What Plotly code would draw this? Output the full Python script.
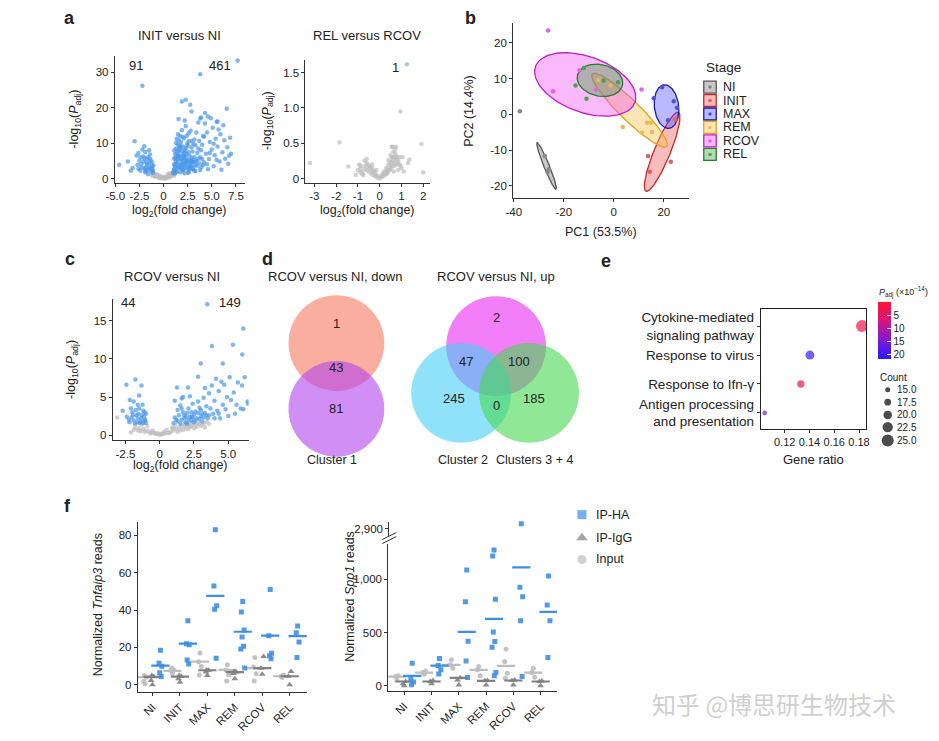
import numpy as np
import plotly.graph_objects as go

W, H = 939, 741
FONT = "Liberation Sans"
CJK = "Noto Sans CJK SC"
# horizontal calibration of the rendered page (observed = SX * placed + OX)
SX, OX = 0.989, 9.0

# ---------------- data ----------------
A1_UP = [(1.0,1.5),(1.1,2.5),(1.2,3.5),(1.3,4.8),(1.2,6.0),(1.4,7.2),(1.3,8.5),(1.5,9.6),(1.6,10.8),(1.4,2.0),
         (1.6,3.0),(1.7,4.2),(1.8,5.5),(1.7,6.6),(1.9,7.8),(2.0,9.0),(1.8,10.2),(2.1,11.3),(2.0,2.2),(2.2,3.4),
         (2.3,4.6),(2.1,5.8),(2.4,6.9),(2.2,8.1),(2.5,9.3),(2.6,10.5),(2.4,12.0),(2.6,1.8),(2.7,3.0),(2.8,4.1),
         (2.9,5.3),(2.7,6.4),(3.0,7.6),(2.9,8.8),(3.1,9.8),(3.2,11.0),(3.0,2.6),(3.3,3.8),(3.4,5.0),(3.2,6.1),
         (3.5,7.3),(3.6,8.5),(3.4,13.0),(1.5,12.5),(1.9,13.6),(2.3,14.8),(2.8,13.5),(3.3,2.1),(3.7,4.3),(3.8,6.0),
         (1.1,4.0),(1.3,10.0),(1.6,7.7),(2.0,6.5),(2.5,5.2),(1.8,3.7),(2.2,1.5),(1.5,5.2),(3.9,3.2),(1.2,1.4),
         (1.4,3.1),(1.9,2.6),(2.3,3.9),(2.6,7.4),(1.7,9.2),(2.9,10.6),(3.1,4.5),(2.1,7.1),(1.5,6.3),(2.4,2.9),
         (4.0,9.5),(4.2,11.8),(4.4,7.0),(4.5,13.0),(4.7,5.5),(4.8,10.3),(5.0,8.2),(5.1,14.3),(5.3,6.6),(5.4,11.2),
         (5.6,9.0),(5.8,4.8),(5.9,12.5),(6.1,7.4),(6.3,10.8),(6.4,5.6),(6.6,8.8),(6.8,6.4),(6.9,11.5),(7.0,7.0),
         (6.7,4.2),(6.2,15.0),(5.5,16.0),(4.3,15.5),(4.1,3.8),(4.6,2.6),(5.2,3.5),(3.9,17.2),(3.6,15.8),(6.0,2.5),
         (4.9,17.0),(5.7,13.8),(6.55,19.7),(4.3,18.5),(4.6,17.5),(2.77,20.8),(2.9,18.9),(1.56,16.8),(2.2,16.4),
         (3.8,16.9),(5.6,16.1),(1.9,21.7),(2.3,22.2),(3.8,29.4),(7.68,33.3),
         (1.05,2.0),(1.15,3.0),(1.25,4.2),(1.35,5.5),(1.45,6.5),(1.55,8.0),(1.65,9.0),(1.75,1.8),(1.85,2.9),
         (1.95,4.0),(2.05,5.0),(2.15,6.2),(2.25,7.4),(2.35,8.6),(2.45,9.8),(2.55,1.6),(2.65,2.5),(2.75,3.5),
         (2.85,4.6),(2.95,5.8),(1.1,5.6),(1.2,7.0),(1.3,1.9),(1.4,4.1),(1.6,5.9),(1.7,3.4),(1.8,8.6),(1.9,5.0),
         (2.0,3.7),(2.1,2.6),(2.2,4.4),(2.3,6.0),(2.4,5.0),(2.5,3.3),(2.6,4.4),(2.7,5.1),(2.8,2.7),(2.9,3.5),
         (3.0,4.8),(3.1,3.1),(3.2,2.2),(3.3,4.9),(3.5,3.6),(3.6,5.6),(3.8,2.4),(4.0,5.5),(4.2,4.6),(4.5,4.0),
         (4.8,7.2),(5.2,9.8),(5.5,5.3),(3.9,8.0),(4.1,12.0),(3.3,9.4),(3.7,10.6),(2.0,11.8),(1.7,12.0),(2.6,12.8),
         (1.35,11.2),(1.12,8.0)]
A1_DOWN = [(-4.6,3.9),(-3.2,3.0),(-3.0,10.5),(-2.6,7.2),(-2.0,9.1),(-2.2,26.2),(-2.8,6.5),(-2.5,5.0),(-2.3,4.0),
           (-2.1,6.2),(-1.9,7.5),(-1.8,3.2),(-1.7,5.5),(-1.6,2.5),(-1.5,4.4),(-1.4,6.8),(-1.3,2.0),(-1.2,3.6),
           (-1.5,8.0),(-2.4,2.2),(-2.7,3.8),(-3.4,2.2),(-1.1,1.6),(-1.9,1.8),(-2.2,8.2),(-1.6,1.2),(-3.7,4.8),
           (-1.3,5.0),(-2.0,3.0),(-1.8,4.6),(-2.4,6.0),(-1.2,2.6),
           (-1.1,2.3),(-1.3,3.0),(-1.5,3.2),(-1.7,4.0),(-1.9,2.5),(-2.1,4.8),(-2.3,3.1),(-1.4,5.6),(-1.2,4.5),
           (-1.6,6.0),(-2.6,2.7),(-1.05,3.6),(-1.8,2.1),(-2.0,5.7)]
A1_NS = [(-1.0,1.4),(-0.8,0.9),(-0.6,0.6),(-0.4,0.3),(-0.2,0.1),(0.0,0.05),(0.2,0.1),(0.4,0.3),(0.6,0.6),(0.8,1.0),
         (1.0,1.2),(-0.9,0.5),(-0.5,0.2),(-0.3,0.4),(0.1,0.3),(0.3,0.2),(0.5,0.9),(0.7,0.4),(0.9,1.6),(-0.7,1.2),
         (-0.1,0.5),(0.15,0.0),(-0.15,0.15),(1.1,0.8),(-1.1,0.8),(0.45,1.3),(-0.45,0.9),(0.65,1.5),(1.2,1.9),(-1.2,1.0),
         (-0.95,1.1),(-0.75,0.7),(-0.55,0.4),(-0.35,0.2),(0.35,0.35),(0.55,0.45),(0.75,0.8),(0.95,1.0),(0.05,0.15),
         (-0.05,0.25),(0.25,0.5),(-0.25,0.25),(1.05,1.7),(-1.05,1.7),(0.85,1.3)]
A1_COUNTS = [91, 461]

A2_SIG = [(1.25, 1.62)]
A2_NS = [(-1.0,0.12),(-0.9,0.15),(-0.8,0.1),(-0.7,0.25),(-0.6,0.28),(-0.6,0.12),(-0.5,0.1),(-0.4,0.07),(-0.3,0.05),
         (-0.2,0.03),(-0.1,0.01),(0.0,0.0),(0.1,0.02),(0.2,0.04),(0.3,0.06),(0.4,0.1),(0.5,0.13),(0.6,0.17),
         (0.7,0.22),(0.8,0.2),(0.6,0.3),(0.7,0.36),(0.5,0.24),(0.4,0.2),(0.55,0.45),(0.75,0.45),(0.9,0.3),
         (1.0,0.15),(0.45,0.16),(0.35,0.12),(-0.45,0.17),(-0.55,0.2),(-0.75,0.05),(-0.25,0.1),(0.25,0.09),
         (-1.1,0.05),(1.1,0.1),(0.65,0.1),(0.85,0.12),(0.95,0.95),(-1.85,0.51),(1.92,0.49),(-3.2,0.22),(2.0,0.09),
         (-1.44,0.17),(1.36,0.27),(-0.35,0.15),(0.15,0.07),(0.8,0.3),(-0.65,0.18),(1.3,0.22),
         (-0.95,0.2),(-0.85,0.18),(-0.7,0.14),(-0.5,0.16),(-0.4,0.13),(-0.3,0.1),(-0.2,0.07),(-0.1,0.04),
         (0.05,0.03),(0.15,0.05),(0.25,0.06),(0.35,0.08),(0.45,0.12),(0.5,0.19),(0.55,0.22),(0.6,0.25),
         (0.65,0.3),(0.7,0.28),(0.75,0.32),(0.8,0.26),(0.85,0.24),(0.9,0.2),(0.55,0.3),(0.62,0.38),(0.68,0.18),
         (0.5,0.33),(0.4,0.26),(0.3,0.15),(0.2,0.1),(-0.15,0.12),(-0.35,0.2),(-0.6,0.22),(-0.8,0.06),(-0.9,0.09),
         (0.95,0.18),(1.05,0.3),(0.72,0.42),(0.6,0.45)]
A2_COUNTS = [1]

C_DOWN = [(-2.43,6.6),(-1.77,7.3),(-1.33,6.5),(-2.18,4.6),(-1.9,4.4),(-1.5,3.5),(-1.2,3.2),(-1.0,2.8),(-1.1,3.0),
          (-1.3,2.6),(-1.6,2.2),(-1.9,1.9),(-2.2,1.7),(-2.0,3.0),(-1.7,2.6),(-1.4,1.8),(-1.2,1.6),(-2.4,2.4),
          (-1.05,2.0),(-1.8,1.5),(-2.1,3.5),(-1.5,5.2),(-2.7,3.2),(-1.25,4.0),(-1.6,4.0),(-1.0,1.6),
          (-1.15,2.4),(-1.35,2.2),(-1.55,2.8),(-1.75,3.3),(-1.95,2.6),(-2.25,2.0),(-1.45,1.6),(-1.65,1.7),
          (-1.1,1.9),(-2.05,2.3)]
C_UP = [(1.0,1.6),(1.2,2.0),(1.4,2.6),(1.3,3.3),(1.5,3.9),(1.6,4.8),(1.7,5.0),(1.26,6.25),(2.06,6.25),(1.8,2.2),
        (1.9,1.7),(2.0,2.9),(2.1,3.5),(2.2,2.4),(2.3,1.9),(2.4,4.1),(2.5,2.7),(2.6,3.1),(2.7,2.2),(2.8,4.4),
        (2.9,3.6),(3.0,2.5),(3.1,1.8),(3.2,4.9),(3.3,2.9),(3.4,3.8),(3.5,2.2),(1.1,4.5),(1.5,1.5),(2.2,5.1),
        (1.7,3.0),(2.0,1.5),(2.35,2.4),(2.8,7.65),(2.99,9.4),(3.47,17.2),(3.81,11.7),(4.6,9.4),(5.34,11.85),
        (6.02,10.6),(6.09,14.0),(5.1,7.6),(6.2,7.6),(6.4,4.4),(6.45,4.1),(3.6,5.5),(3.8,6.5),(4.0,4.5),(4.2,3.2),
        (4.3,5.8),(4.5,7.0),(4.7,6.6),(4.8,3.4),(4.9,5.0),(5.0,2.5),(5.2,4.6),(5.4,5.6),(5.5,2.8),(5.7,6.9),
        (5.9,3.5),(6.1,3.4),(3.9,2.8),(4.1,7.4),(4.4,2.2),(3.7,3.5),(5.6,4.0),(6.0,6.5),(3.3,6.2),(4.6,4.0),
        (1.1,2.3),(1.3,1.8),(1.6,2.0),(1.8,2.6),(2.1,2.0),(2.4,2.3),(2.6,1.9),(2.8,2.9),(3.0,3.3),(3.2,2.3),
        (3.4,2.6),(1.6,3.5),(1.9,2.4),(2.5,1.7),(2.9,2.1),(3.6,2.6),(4.0,2.2),(4.3,2.8),(3.1,2.8),(2.3,3.0)]
C_NS = [(-3.1,2.3),(-2.1,0.35),(-1.8,1.0),(-1.5,0.9),(-1.2,0.8),(-1.0,0.6),(-0.8,0.5),(-0.6,0.35),(-0.4,0.2),
        (-0.2,0.1),(0.0,0.05),(0.2,0.1),(0.4,0.2),(0.6,0.3),(0.8,0.45),(1.0,0.6),(1.2,0.8),(1.4,1.0),(1.6,1.1),
        (1.8,1.25),(2.0,1.35),(2.2,1.1),(2.4,1.5),(2.6,1.3),(2.8,1.6),(3.0,1.2),(3.2,1.4),(3.4,1.7),(3.6,1.5),
        (-0.5,0.6),(0.5,0.7),(-0.9,1.2),(1.1,1.3),(0.3,0.4),(-0.3,0.3),(1.5,0.6),(2.1,0.8),(-1.3,1.4),(0.9,1.0),
        (2.5,0.9),(-1.6,0.6),(-1.4,0.5),(-1.1,0.4),(-0.7,0.2),(0.7,0.25),(1.3,0.45),(1.7,0.7),(1.9,0.9),(2.3,1.2),
        (2.7,1.1),(2.9,1.45),(3.3,1.0),(-1.9,0.7),(0.1,0.15),(-0.1,0.2),(1.0,0.9),(1.8,1.5),(2.2,1.6)]
C_COUNTS = [44, 149]

STAGES = ["NI", "INIT", "MAX", "REM", "RCOV", "REL"]
PC1 = [[-37.6, -27.6, -26.0, -26.5],
       [13.7, 14.4, 22.8, 24.7],
       [19.3, 16.0, 24.0, 25.3, 21.7],
       [3.6, 13.3, 15.0, 11.3, 15.3, -1.3, -6.3],
       [-26.3, -24.3, -7.1, 11.1, -13.7],
       [-12.0, -15.3, -10.9, -4.0, 1.7]]
PC2 = [[0.9, -11.6, -15.3, -16.2],
       [-11.6, -16.0, -13.2, -1.4],
       [7.6, 4.5, 3.7, 1.9, -1.6],
       [-3.5, -2.3, -2.3, -5.1, -4.9, 8.1, 9.6],
       [23.5, 6.5, 7.0, 7.0, 12.3],
       [13.0, 8.1, 4.4, 9.5, 9.0]]
ELL_CX = [-26.9, 19.35, 21.1, 6.3, -11.45, -5.55]
ELL_CY = [-14.4, -10.45, 2.2, 1.2, 8.4, 9.55]
ELL_A = [7.53, 12.81, 6.2, 18.03, 20.6, 9.15]
ELL_B = [1.0, 3.0, 4.8, 3.2, 8.0, 4.45]
ELL_ANGLE = [-59.7, 58.7, 107.0, -33.7, -11.8, -6.0]
PCA_XLABEL = "PC1 (53.5%)"
PCA_YLABEL = "PC2 (14.4%)"

VENN_DOWN_COUNTS = [1, 43, 81]
VENN_DOWN_LABELS = ["RCOV versus NI, down", "Cluster 1"]
VENN_UP_COUNTS = [2, 47, 100, 245, 0, 185]
VENN_UP_LABELS = ["RCOV versus NI, up", "Cluster 2", "Clusters 3 + 4"]

GO_TERMS = ["Antigen processing<br>and presentation", "Response to Ifn-γ",
            "Response to virus", "Cytokine-mediated<br>signaling pathway"]
GO_RATIO = [0.1038, 0.133, 0.1403, 0.1824]
GO_PADJ = [16.0, 3.5, 21.0, 2.5]
GO_COUNT = [14.5, 18.5, 20.5, 25.0]
COUNT_LEGEND = [15.0, 17.5, 20.0, 22.5, 25.0]

F_STAGES = ["NI", "INIT", "MAX", "REM", "RCOV", "REL"]
TNF_INPUT = [[0.6, 1.8, 4, 5], [6.2, 7.5, 8, 9], [17, 12.4, 9.8, 5.3], [10.7, 8, 5.3, 2.1],
             [14.6, 9.6, 5.9, 2.1], [3.9, 4.6, 5.3]]
TNF_INPUT_MID = [4.1, 7.5, 12.4, 8.0, 8.9, 4.6]
TNF_IGG = [[0, 2.3, 4.3, 5], [1.4, 3.2, 4.4, 5], [5, 6.8, 7.8, 8], [3.2, 6, 6.8, 7], [5.7, 8.9, 15.1], [0, 4.6, 7.1]]
TNF_IGG_MID = [4.3, 4.4, 7.8, 6.8, 8.9, 4.6]
TNF_HA = [[18.5, 11.5, 10, 6.5, 4.5], [34.3, 22, 21.5, 13.3, 11.2], [83, 52.8, 42.3, 40.4, 14.2],
          [44.6, 39, 29.3, 25.6, 20.6, 19.2, 9], [51, 26.3, 16.9, 15.5, 13.9], [31.5, 27.9, 22.9, 14.6]]
TNF_HA_MID = [10.3, 22, 47.6, 28.4, 26.3, 26.1]

SPP_INPUT = [[56, 87, 95], [109, 125, 140], [244, 197, 166], [181, 150, 94], [347, 228, 119, 72], [166, 125, 81]]
SPP_INPUT_MID = [87, 125, 197, 150, 187, 125]
SPP_IGG = [[0, 20, 41], [19, 41, 50], [9, 56, 75], [9, 47, 50], [9, 50, 55], [0, 41, 45]]
SPP_IGG_MID = [41, 41, 75, 47, 50, 41]
SPP_HA = [[212, 60, 35, 10], [256, 190, 150, 112], [1088, 790, 419, 234, 78],
          [1275, 1219, 812, 506, 416, 362, 125, 94], [2945, 925, 837, 612, 87], [1031, 759, 612, 266]]
SPP_HA_MID = [94, 190, 506, 628, 1112, 694]
SPP_BREAK = 1400

# ---------------- styling ----------------
BLUE = "#4a97e8"
GRAY_NS = "#bdbdbd"
ST_LINE = ["#555555", "#c62828", "#1a1aa8", "#e3a21a", "#c21bc8", "#2a7d2a"]
ST_FILL = ["rgba(120,120,120,0.40)", "rgba(240,80,80,0.38)", "rgba(70,70,255,0.38)",
           "rgba(250,190,70,0.40)", "rgba(240,80,245,0.40)", "rgba(70,160,70,0.40)"]
ST_PT = ["#888888", "#e06060", "#5050e0", "#f0b850", "#e060e8", "#50a050"]
F_HA_C, F_IGG_C, F_IN_C = "#3d8fe6", "#808080", "#bdbdbd"
DODGE = [-0.27, 0.0, 0.29]
JIT = [0.0, -0.05, 0.05, -0.025, 0.03, -0.07, 0.07, 0.01]


def tx(x):
    return (x - OX) / SX


def dx(a, b):
    return [tx(a) / W, tx(b) / W]


def dy(top, bottom):
    return [1 - bottom / H, 1 - top / H]


AX = dict(showline=True, linecolor="#333", linewidth=1, ticks="outside", ticklen=3, tickwidth=1,
          tickcolor="#333", showgrid=False, zeroline=False, tickangle=0,
          tickfont=dict(size=11.5, color="#222", family=FONT))

fig = go.Figure()


def volc(pts, color, xa, ya, opacity=0.7, size=4.5):
    xs, ys = zip(*pts)
    fig.add_trace(go.Scatter(x=xs, y=ys, mode="markers", xaxis=xa, yaxis=ya, showlegend=False,
                             marker=dict(color=color, size=size, opacity=opacity, line=dict(width=0)),
                             hoverinfo="skip"))


volc(A1_NS, GRAY_NS, "x", "y")
volc(A1_DOWN, BLUE, "x", "y")
volc(A1_UP, BLUE, "x", "y")
volc(A2_NS, GRAY_NS, "x2", "y2")
volc(A2_SIG, "#8fb4dc", "x2", "y2")
volc(C_NS, GRAY_NS, "x4", "y4")
volc(C_DOWN, BLUE, "x4", "y4")
volc(C_UP, BLUE, "x4", "y4")

t = np.linspace(0, 2 * np.pi, 120)
for i, st in enumerate(STAGES):
    th = np.deg2rad(ELL_ANGLE[i])
    ex = ELL_CX[i] + ELL_A[i] * np.cos(t) * np.cos(th) - ELL_B[i] * np.sin(t) * np.sin(th)
    ey = ELL_CY[i] + ELL_A[i] * np.cos(t) * np.sin(th) + ELL_B[i] * np.sin(t) * np.cos(th)
    fig.add_trace(go.Scatter(x=ex, y=ey, mode="lines", fill="toself", fillcolor=ST_FILL[i],
                             line=dict(color=ST_LINE[i], width=1.3), xaxis="x3", yaxis="y3",
                             showlegend=False, hoverinfo="skip"))
for i, st in enumerate(STAGES):
    fig.add_trace(go.Scatter(x=PC1[i], y=PC2[i], mode="markers", xaxis="x3", yaxis="y3", showlegend=False,
                             marker=dict(color=ST_PT[i], size=4.5), hoverinfo="skip"))


def dot_size(c):
    return 5 + (np.asarray(c, dtype=float) - 15) * 0.7


GO_SCALE = [[0, "#2b1cff"], [0.35, "#8318d0"], [0.65, "#d2157e"], [1, "#ff1538"]]
fig.add_trace(go.Scatter(
    x=GO_RATIO, y=list(range(len(GO_TERMS))), mode="markers", xaxis="x5", yaxis="y5", showlegend=False,
    cliponaxis=True, hoverinfo="skip",
    marker=dict(size=dot_size(GO_COUNT), color=[-p for p in GO_PADJ], cmin=-21.9, cmax=0,
                colorscale=GO_SCALE, line=dict(width=0),
                colorbar=dict(x=tx(880) / W, xanchor="left", y=1 - 303 / H, yanchor="top", lenmode="pixels",
                              len=57, thickness=13, xpad=0, ypad=0, outlinewidth=0, ticks="inside",
                              tickcolor="white", ticklen=4, tickvals=[-5, -10, -15, -20],
                              ticktext=["5", "10", "15", "20"], tickfont=dict(size=10, color="#222", family=FONT)))))


def strip(data, mids, k, color, symbol, size, xa, ya, split=None, ya_hi=None):
    xs, ys, xh, yh = [], [], [], []
    for g, vals in enumerate(data):
        for j, v in enumerate(vals):
            xv = g + DODGE[k] + JIT[j % len(JIT)]
            if split is not None and v > split:
                xh.append(xv); yh.append(v)
            else:
                xs.append(xv); ys.append(v)
    fig.add_trace(go.Scatter(x=xs, y=ys, mode="markers", xaxis=xa, yaxis=ya, showlegend=False,
                             hoverinfo="skip", marker=dict(color=color, symbol=symbol, size=size,
                                                           opacity=0.9, line=dict(width=0))))
    if xh:
        fig.add_trace(go.Scatter(x=xh, y=yh, mode="markers", xaxis="x8", yaxis=ya_hi, showlegend=False,
                                 hoverinfo="skip", cliponaxis=False,
                                 marker=dict(color=color, symbol=symbol, size=size, opacity=0.9,
                                             line=dict(width=0))))
    fig.add_trace(go.Scatter(x=[g + DODGE[k] for g in range(len(mids))], y=mids, mode="markers",
                             xaxis=xa, yaxis=ya, showlegend=False, hoverinfo="skip",
                             marker=dict(symbol="line-ew", size=13, color=color,
                                         line=dict(color=color, width=2.2))))


strip(TNF_INPUT, TNF_INPUT_MID, 0, F_IN_C, "circle", 5, "x6", "y6")
strip(TNF_IGG, TNF_IGG_MID, 1, F_IGG_C, "triangle-up", 6, "x6", "y6")
strip(TNF_HA, TNF_HA_MID, 2, F_HA_C, "square", 5, "x6", "y6")
strip(SPP_INPUT, SPP_INPUT_MID, 0, F_IN_C, "circle", 5, "x7", "y7")
strip(SPP_IGG, SPP_IGG_MID, 1, F_IGG_C, "triangle-up", 6, "x7", "y7")
strip(SPP_HA, SPP_HA_MID, 2, F_HA_C, "square", 5, "x7", "y7", split=SPP_BREAK, ya_hi="y8")

LEG_Y0, LEG_DY = 87.3, 13.5
shapes = []
annotations = []
for i, st in enumerate(STAGES):
    yy = LEG_Y0 + i * LEG_DY
    shapes.append(dict(type="rect", xref="x9", yref="y9", x0=705, x1=717.5, y0=yy - 6, y1=yy + 6,
                       line=dict(color=ST_LINE[i], width=1.3), fillcolor=ST_FILL[i]))
    annotations.append(dict(x=722, y=yy, xref="x9", yref="y9", text=st, showarrow=False, xanchor="left",
                            yanchor="middle", font=dict(size=12.5, color="#222", family=FONT)))
fig.add_trace(go.Scatter(x=[711.25] * len(STAGES), y=[LEG_Y0 + i * LEG_DY for i in range(len(STAGES))],
                         mode="markers", xaxis="x9", yaxis="y9", showlegend=False, hoverinfo="skip",
                         marker=dict(color=ST_PT, size=3.5)))
annotations.append(dict(x=705, y=68, xref="x9", yref="y9", text="Stage", showarrow=False, xanchor="left",
                        yanchor="middle", font=dict(size=13.5, color="#222", family=FONT)))

CL_Y = [390.7, 403.3, 416.0, 428.3, 441.7]
fig.add_trace(go.Scatter(x=[889.3] * len(COUNT_LEGEND), y=CL_Y, mode="markers", xaxis="x9", yaxis="y9",
                         showlegend=False, hoverinfo="skip",
                         marker=dict(color="black", size=dot_size(COUNT_LEGEND), line=dict(width=0))))
for c, yy in zip(COUNT_LEGEND, CL_Y):
    annotations.append(dict(x=897, y=yy, xref="x9", yref="y9", text=f"{c:.1f}", showarrow=False,
                            xanchor="left", yanchor="middle", font=dict(size=10, color="#222", family=FONT)))
annotations.append(dict(x=880, y=379, xref="x9", yref="y9", text="Count", showarrow=False, xanchor="left",
                        yanchor="middle", font=dict(size=10, color="#222", family=FONT)))
annotations.append(dict(x=879, y=293, xref="x9", yref="y9",
                        text="<i>P</i><sub>adj</sub> (×10<sup>−14</sup>)", showarrow=False, xanchor="left",
                        yanchor="middle", font=dict(size=9, color="#222", family=FONT)))

F_LEG = [("IP-HA", F_HA_C, "square", 9), ("IP-IgG", F_IGG_C, "triangle-up", 10), ("Input", F_IN_C, "circle", 9)]
FL_Y = [516.0, 539.3, 561.0]
fig.add_trace(go.Scatter(x=[583] * 3, y=FL_Y, mode="markers", xaxis="x9", yaxis="y9", showlegend=False,
                         hoverinfo="skip",
                         marker=dict(color=[f[1] for f in F_LEG], symbol=[f[2] for f in F_LEG],
                                     size=[f[3] for f in F_LEG], line=dict(width=0))))
for (lab, _, _, _), yy in zip(F_LEG, FL_Y):
    annotations.append(dict(x=595, y=yy, xref="x9", yref="y9", text=lab, showarrow=False, xanchor="left",
                            yanchor="middle", font=dict(size=12.5, color="#222", family=FONT)))

VENN_CIRCLES = [
    (337, 344, 48, "rgba(245,120,95,0.6)"),
    (337, 410, 48, "rgba(178,67,238,0.6)"),
    (497, 347, 50, "rgba(233,42,243,0.6)"),
    (462, 394, 50, "rgba(70,207,247,0.6)"),
    (530, 394, 50, "rgba(70,217,80,0.6)"),
]
for cx, cy, r, col in VENN_CIRCLES:
    shapes.append(dict(type="circle", xref="x9", yref="y9", x0=cx - r, x1=cx + r, y0=cy - r, y1=cy + r,
                       fillcolor=col, line=dict(width=0), layer="below"))
VD_POS = [(337, 324), (337, 368), (337, 410)]
for n, (x, y) in zip(VENN_DOWN_COUNTS, VD_POS):
    annotations.append(dict(x=x, y=y, xref="x9", yref="y9", text=str(n), showarrow=False,
                            font=dict(size=13, color="#222", family=FONT)))
VU_POS = [(497, 318), (467, 362), (520, 362), (455, 400), (497, 407), (535, 400)]
for n, (x, y) in zip(VENN_UP_COUNTS, VU_POS):
    annotations.append(dict(x=x, y=y, xref="x9", yref="y9", text=str(n), showarrow=False,
                            font=dict(size=13, color="#222", family=FONT)))
for text, (x, y), fs in zip(VENN_DOWN_LABELS + VENN_UP_LABELS,
                            [(336, 277), (333, 461), (497, 277), (464, 461), (536, 461)],
                            [13, 12.5, 13, 12.5, 12.5]):
    annotations.append(dict(x=x, y=y, xref="x9", yref="y9", text=text, showarrow=False,
                            font=dict(size=fs, color="#222", family=FONT)))

for off in (0, 4):
    shapes.append(dict(type="line", xref="x9", yref="y9", x0=383, x1=397, y0=545 - off, y1=538 - off,
                       line=dict(color="#333", width=1)))


def txt(x, y, s, size=12.5, angle=0, bold=False, anchor="center", color="#222", family=FONT):
    annotations.append(dict(x=x, y=y, xref="x9", yref="y9", text=(f"<b>{s}</b>" if bold else s),
                            showarrow=False, textangle=angle, xanchor=anchor, yanchor="middle",
                            font=dict(size=size, color=color, family=family)))


YT = "-log<sub>10</sub>(<i>P</i><sub>adj</sub>)"
XT = "log<sub>2</sub>(fold change)"
for s, x, y in [("a", 70, 18), ("b", 471, 18), ("c", 70, 260), ("d", 268, 260), ("e", 607, 262), ("f", 68, 507)]:
    txt(x, y, s, size=18, bold=True)
txt(180, 36, "INIT versus NI", 13)
txt(368, 36, "REL versus RCOV", 13)
txt(172, 277, "RCOV versus NI", 13)
txt(180, 212, XT)
txt(368, 212, XT)
txt(181, 467, XT)
txt(75, 119, YT, angle=-90)
txt(268, 121, YT, angle=-90)
txt(72, 370, YT, angle=-90)
txt(602, 233, PCA_XLABEL)
txt(470, 111, PCA_YLABEL, angle=-90)
txt(815, 461, "Gene ratio", 13)
txt(99, 606, "Normalized <i>Tnfaip3</i> reads", angle=-90)
txt(351, 598, "Normalized <i>Spp1</i> reads", angle=-90)
txt(136, 66, str(A1_COUNTS[0]), 13)
txt(220, 66, str(A1_COUNTS[1]), 13)
txt(396, 68, str(A2_COUNTS[0]), 13)
txt(128, 303, str(C_COUNTS[0]), 13)
txt(230, 303, str(C_COUNTS[1]), 13)
txt(775, 705, "知乎 @博思研生物技术", 24, color="#cfcfcf", family=CJK)

fig.update_layout(
    width=W, height=H, margin=dict(l=0, r=0, t=0, b=0), paper_bgcolor="white", plot_bgcolor="rgba(0,0,0,0)",
    font=dict(family=FONT, color="#222"), showlegend=False,
    xaxis=dict(AX, domain=dx(115, 245), range=[-5.05, 8.4], anchor="y",
               tickvals=[-5, -2.5, 0, 2.5, 5, 7.5], ticktext=["-5.0", "-2.5", "0", "2.5", "5.0", "7.5"]),
    yaxis=dict(AX, domain=dy(56, 183), range=[-1.12, 34.6], anchor="x", tickvals=[0, 10, 20, 30]),
    xaxis2=dict(AX, domain=dx(306, 431), range=[-3.41, 2.32], anchor="y2",
                tickvals=[-3, -2, -1, 0, 1, 2], ticktext=["-3", "-2", "-1", "0", "1", "2"]),
    yaxis2=dict(AX, domain=dy(60, 183), range=[-0.057, 1.683], anchor="x2",
                tickvals=[0, 0.5, 1.0, 1.5], ticktext=["0", "0.5", "1.0", "1.5"]),
    xaxis3=dict(AX, domain=dx(514, 690), range=[-40.3, 30], anchor="y3",
                tickvals=[-40, -20, 0, 20], ticktext=["-40", "-20", "0", "20"]),
    yaxis3=dict(AX, domain=dy(23, 199), range=[-23.5, 25.6], anchor="x3",
                tickvals=[-20, -10, 0, 10, 20], ticktext=["-20", "-10", "0", "10", "20"]),
    xaxis4=dict(AX, domain=dx(113, 249), range=[-3.42, 6.48], anchor="y4",
                tickvals=[-2.5, 0, 2.5, 5], ticktext=["-2.5", "0", "2.5", "5.0"]),
    yaxis4=dict(AX, domain=dy(300, 441), range=[-0.62, 17.85], anchor="x4", tickvals=[0, 5, 10, 15]),
    xaxis5=dict(AX, domain=dx(762, 868), range=[0.1005, 0.186], anchor="y5", mirror=True,
                linecolor="#222", tickvals=[0.12, 0.14, 0.16, 0.18],
                ticktext=["0.12", "0.14", "0.16", "0.18"], tickfont=dict(size=11, color="#222", family=FONT)),
    yaxis5=dict(AX, domain=dy(310, 430), range=[-0.55, 3.586], anchor="x5", mirror=True, linecolor="#222",
                tickvals=list(range(len(GO_TERMS))), ticktext=GO_TERMS,
                tickfont=dict(size=13.5, color="#222", family=FONT)),
    xaxis6=dict(AX, domain=dx(138, 308), range=[-0.535, 5.647], anchor="y6",
                tickvals=list(range(6)), ticktext=F_STAGES, tickangle=-45),
    yaxis6=dict(AX, domain=dy(523, 694), range=[-3.9, 87.3], anchor="x6", tickvals=[0, 20, 40, 60, 80]),
    xaxis7=dict(AX, domain=dx(389, 558), range=[-0.586, 5.6], anchor="y7",
                tickvals=list(range(6)), ticktext=F_STAGES, tickangle=-45),
    yaxis7=dict(AX, domain=dy(545, 693), range=[-49.6, 1336], anchor="x7",
                tickvals=[0, 500, 1000], ticktext=["0", "500", "1,000"]),
    xaxis8=dict(domain=dx(389, 558), range=[-0.586, 5.6], anchor="y8", showline=False, showticklabels=False,
                ticks="", showgrid=False, zeroline=False),
    yaxis8=dict(AX, domain=dy(523, 537), range=[2834.5, 2965.5], anchor="free", position=tx(389) / W,
                tickvals=[2900], ticktext=["2,900"]),
    xaxis9=dict(domain=[0, 1], range=[OX, OX + SX * W], anchor="y9", visible=False, fixedrange=True),
    yaxis9=dict(domain=[0, 1], range=[H, 0], anchor="x9", visible=False, fixedrange=True),
    shapes=shapes, annotations=annotations,
)

fig.write_html("out.html", config={"displayModeBar": False},
               post_script="document.body.style.margin='0px';")
